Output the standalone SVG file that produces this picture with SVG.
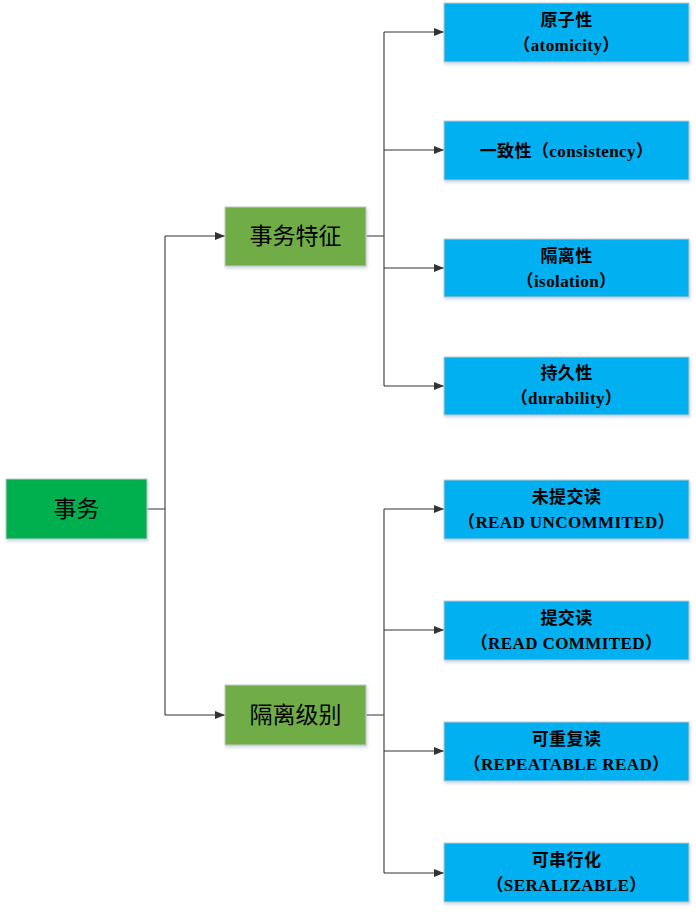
<svg xmlns="http://www.w3.org/2000/svg" width="696" height="912" viewBox="0 0 696 912">
<defs>
<marker id="arr" viewBox="0 0 10 10" refX="10" refY="5" markerWidth="10" markerHeight="10" markerUnits="userSpaceOnUse" orient="auto">
<path d="M0,1 L10,5 L0,9 z" fill="#333"/>
</marker>
<filter id="sh" x="-10%" y="-10%" width="120%" height="130%">
<feDropShadow dx="1" dy="2" stdDeviation="1.5" flood-color="#9bb4d8" flood-opacity="0.5"/>
</filter>
</defs>
<style>
.g1{fill:#00b050;stroke:#c8c8c8;stroke-width:1}
.g2{fill:#70ad47;stroke:#c8c8c8;stroke-width:1}
.b{fill:#00b0f0;stroke:#c8c8c8;stroke-width:1}
.t{font-family:"Liberation Serif","Noto Sans CJK SC",serif;fill:#000;text-anchor:middle;dominant-baseline:central}
.big{font-size:23px}
.sm{font-size:17px;font-weight:bold;letter-spacing:0.4px}
.c{fill:none;stroke:#333;stroke-width:1}
.v{fill:none;stroke:#555;stroke-width:1.3}
</style>
<g id="connectors">
<path class="c" d="M147,509 H165"/>
<path class="v" d="M165,236 V715"/>
<path class="c" d="M165,236 H225" marker-end="url(#arr)"/>
<path class="c" d="M165,715 H225" marker-end="url(#arr)"/>
<path class="c" d="M366,236 H384"/>
<path class="v" d="M384,32 V386"/>
<path class="c" d="M384,32 H444" marker-end="url(#arr)"/>
<path class="c" d="M384,150 H444" marker-end="url(#arr)"/>
<path class="c" d="M384,268 H444" marker-end="url(#arr)"/>
<path class="c" d="M384,386 H444" marker-end="url(#arr)"/>
<path class="c" d="M366,715 H384"/>
<path class="v" d="M384,509 V873"/>
<path class="c" d="M384,509 H444" marker-end="url(#arr)"/>
<path class="c" d="M384,630 H444" marker-end="url(#arr)"/>
<path class="c" d="M384,751 H444" marker-end="url(#arr)"/>
<path class="c" d="M384,873 H444" marker-end="url(#arr)"/>
</g>
<g id="root"><rect class="g1" x="6" y="479" width="141" height="60" filter="url(#sh)"/><text class="t big" x="76.5" y="509">事务</text></g>
<g id="features"><rect class="g2" x="225" y="207" width="141" height="59" filter="url(#sh)"/><text class="t big" x="295.5" y="236.5">事务特征</text></g>
<g id="levels"><rect class="g2" x="225" y="685" width="141" height="60" filter="url(#sh)"/><text class="t big" x="295.5" y="715">隔离级别</text></g>
<g id="atomicity"><rect class="b" x="444" y="3" width="245" height="59" filter="url(#sh)"/><text class="t sm" x="566.5" y="20">原子性</text><text class="t sm" x="566.5" y="45">（atomicity）</text></g>
<g id="consistency"><rect class="b" x="444" y="121" width="245" height="59" filter="url(#sh)"/><text class="t sm" x="566.5" y="151">一致性（consistency）</text></g>
<g id="isolation"><rect class="b" x="444" y="239" width="245" height="58" filter="url(#sh)"/><text class="t sm" x="566.5" y="256">隔离性</text><text class="t sm" x="566.5" y="281">（isolation）</text></g>
<g id="durability"><rect class="b" x="444" y="357" width="245" height="58" filter="url(#sh)"/><text class="t sm" x="566.5" y="373">持久性</text><text class="t sm" x="566.5" y="398">（durability）</text></g>
<g id="ru"><rect class="b" x="444" y="480" width="245" height="59" filter="url(#sh)"/><text class="t sm" x="566.5" y="497">未提交读</text><text class="t sm" x="566.5" y="522">（READ UNCOMMITED）</text></g>
<g id="rc"><rect class="b" x="444" y="601" width="245" height="59" filter="url(#sh)"/><text class="t sm" x="566.5" y="618">提交读</text><text class="t sm" x="566.5" y="643">（READ COMMITED）</text></g>
<g id="rr"><rect class="b" x="444" y="722" width="245" height="59" filter="url(#sh)"/><text class="t sm" x="566.5" y="739">可重复读</text><text class="t sm" x="566.5" y="764">（REPEATABLE READ）</text></g>
<g id="ser"><rect class="b" x="444" y="843" width="245" height="59" filter="url(#sh)"/><text class="t sm" x="566.5" y="860">可串行化</text><text class="t sm" x="566.5" y="885">（SERALIZABLE）</text></g>
</svg>
